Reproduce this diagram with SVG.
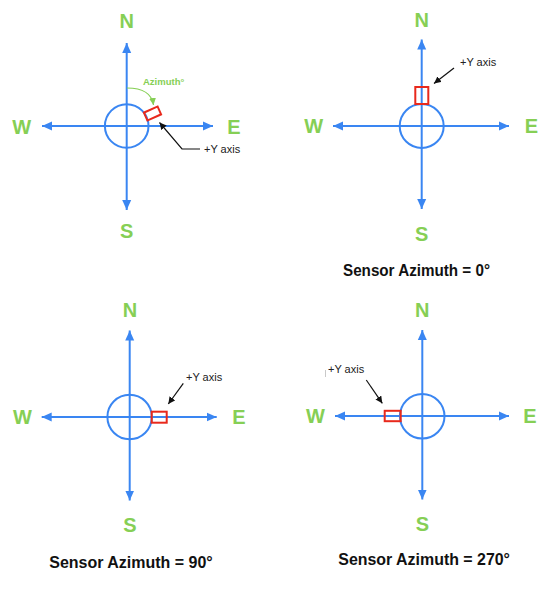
<svg xmlns="http://www.w3.org/2000/svg" width="558" height="592" viewBox="0 0 558 592">
<style>
.ax{stroke:#3A86F2;stroke-width:2;fill:none;marker-start:url(#ba);marker-end:url(#ba)}
.ring{stroke:#3A86F2;stroke-width:2;fill:none}
.dir{font-family:"Liberation Sans",Arial,sans-serif;font-weight:bold;font-size:20px;fill:#86CF55;text-anchor:middle}
.sensor{stroke:#E8291C;stroke-width:2;fill:none}
.lbl{font-family:"Liberation Sans",Arial,sans-serif;font-size:11px;fill:#222}
.ptr{stroke:#111;stroke-width:1.2;fill:none;marker-end:url(#ka)}
.cap{font-family:"Liberation Sans",Arial,sans-serif;font-weight:bold;font-size:16px;fill:#111}
.az{font-family:"Liberation Sans",Arial,sans-serif;font-weight:bold;font-size:9.5px;fill:#86CF55}
</style>
<defs>
<marker id="ba" markerUnits="userSpaceOnUse" markerWidth="11" markerHeight="10" refX="10" refY="5" orient="auto-start-reverse" viewBox="0 0 11 10">
<path d="M0,0.5 L10,5 L0,9.5 z" fill="#3A86F2"/>
</marker>
<marker id="ka" markerUnits="userSpaceOnUse" markerWidth="8" markerHeight="7" refX="7" refY="3.5" orient="auto" viewBox="0 0 8 7">
<path d="M0,0 L7,3.5 L0,7 z" fill="#111"/>
</marker>
<marker id="ga" markerUnits="userSpaceOnUse" markerWidth="8" markerHeight="7" refX="7" refY="3.5" orient="auto" viewBox="0 0 8 7">
<path d="M0,0 L7,3.5 L0,7 z" fill="#86CF55"/>
</marker>
</defs>

<g id="connectors">
<line class="ax" x1="126.7" y1="43" x2="126.7" y2="210"/>
<line class="ax" x1="42" y1="126" x2="213" y2="126"/>
<line class="ax" x1="421.7" y1="39.5" x2="421.7" y2="209"/>
<line class="ax" x1="333" y1="126" x2="509" y2="126"/>
<line class="ax" x1="129.7" y1="330.5" x2="129.7" y2="500.5"/>
<line class="ax" x1="41.7" y1="417" x2="216.7" y2="417"/>
<line class="ax" x1="422.3" y1="330" x2="422.3" y2="499.5"/>
<line class="ax" x1="335" y1="416" x2="509" y2="416"/>
<path d="M127,88 Q151,88 153.5,105" stroke="#86CF55" stroke-width="1.2" fill="none" marker-end="url(#ga)"/>
<polyline class="ptr" points="200,149 182,149 159.5,122.5"/>
<line class="ptr" x1="454" y1="68" x2="434" y2="83.5"/>
<line class="ptr" x1="183.3" y1="383.3" x2="168.3" y2="404"/>
<line class="ptr" x1="366.3" y1="380" x2="382.3" y2="403.3"/>
</g>

<g id="compass-azimuth">
<circle class="ring" cx="126.7" cy="126" r="21.8"/>
<text class="dir" x="126.7" y="27.7">N</text>
<text class="dir" x="21.7" y="133.5">W</text>
<text class="dir" x="234" y="133.5">E</text>
<text class="dir" x="126.7" y="237.7">S</text>
<rect class="sensor" x="145" y="109.2" width="15" height="8.6" transform="rotate(-24 152.5 113.5)"/>
<text class="az" x="143" y="85">Azimuth°</text>
<text class="lbl" x="204" y="152.5">+Y axis</text>
</g>

<g id="compass-0">
<circle class="ring" cx="421.7" cy="126" r="22"/>
<text class="dir" x="421.7" y="27.2">N</text>
<text class="dir" x="313.7" y="133.2">W</text>
<text class="dir" x="531.5" y="133.2">E</text>
<text class="dir" x="421.7" y="241">S</text>
<rect class="sensor" x="415.3" y="87" width="13" height="17"/>
<text class="lbl" x="460" y="65.5">+Y axis</text>
<text class="cap" x="343" y="276" textLength="147" lengthAdjust="spacingAndGlyphs">Sensor Azimuth = 0°</text>
</g>

<g id="compass-90">
<circle class="ring" cx="129.6" cy="417" r="22.2"/>
<text class="dir" x="130" y="317">N</text>
<text class="dir" x="22.5" y="424">W</text>
<text class="dir" x="239" y="424">E</text>
<text class="dir" x="130" y="532">S</text>
<rect class="sensor" x="151.7" y="411.7" width="15" height="11"/>
<text class="lbl" x="186" y="380.5">+Y axis</text>
<text class="cap" x="49.3" y="568" textLength="163.4" lengthAdjust="spacingAndGlyphs">Sensor Azimuth = 90°</text>
</g>

<g id="compass-270">
<circle class="ring" cx="422.2" cy="416.2" r="22.3"/>
<text class="dir" x="422.3" y="316.7">N</text>
<text class="dir" x="315.5" y="423">W</text>
<text class="dir" x="530" y="423">E</text>
<text class="dir" x="422.3" y="531">S</text>
<rect class="sensor" x="384.7" y="410.8" width="16" height="10.4"/>
<line x1="325.5" y1="370" x2="325.5" y2="377" stroke="#bbb" stroke-width="0.8"/>
<text class="lbl" x="328" y="373">+Y axis</text>
<text class="cap" x="338.3" y="564.5" textLength="171.7" lengthAdjust="spacingAndGlyphs">Sensor Azimuth = 270°</text>
</g>
</svg>
